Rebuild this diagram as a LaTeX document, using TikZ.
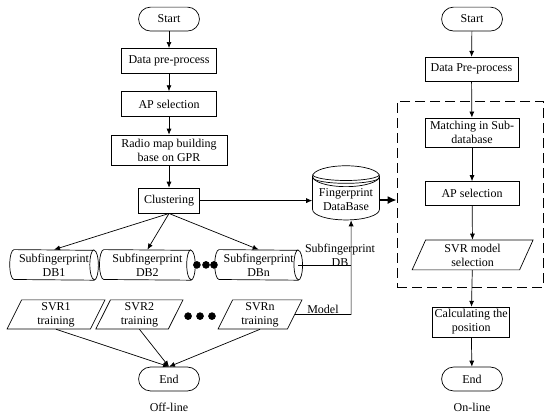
\documentclass[tikz,border=0pt]{standalone}
\usepackage{fontspec}
\setmainfont{Liberation Serif}
\usepackage{tikz}
\usetikzlibrary{shapes.geometric}
\usetikzlibrary{arrows,arrows.meta,shapes}

\begin{document}
\begin{tikzpicture}[>={Latex[length=6pt,width=5pt]}, line width=0.7pt]
    \tikzstyle{every node}=[font=\fontsize{12}{14}\selectfont, inner sep=2pt, align=center]
    \tikzstyle{term}=[rectangle, rounded corners=0.42cm, draw, minimum width=2.14cm, minimum height=0.84cm]
    \tikzstyle{proc}=[rectangle, draw, minimum width=3.34cm, minimum height=0.88cm]
    \tikzstyle{subdb}=[rectangle, minimum width=3.09cm, minimum height=1.05cm]
    \tikzstyle{svr}=[trapezium, trapezium left angle=63, trapezium right angle=117,
    trapezium stretches body, draw, minimum height=1.02cm]
    \useasboundingbox (0,0) rectangle (19.33,-14.66);

    % off-line
    \node[term](st1) at (5.94,-0.67){Start};
    \node[proc](pp1) at (5.94,-2.14){Data pre-process};
    \node[proc](ap1) at (5.94,-3.66){AP selection};
    \node[proc, minimum width=4.08cm, minimum height=1.05cm](rm) at (5.94,-5.27){Radio map building\\base on GPR};
    \node[proc, minimum width=2.14cm](cl) at (5.94,-7.05){Clustering};

    \node[subdb](db1) at (1.90,-9.31){Subfingerprint\\DB1};
    \node[subdb, minimum width=3.34cm](db2) at (5.18,-9.31){Subfingerprint\\DB2};
    \node[subdb, minimum width=3.06cm](dbn) at (9.09,-9.31){Subfingerprint\\DBn};
    \foreach \n in {db1,db2,dbn}
        \draw ([xshift=0.15cm]\n.north west) arc (90:270:0.15cm and 0.525cm)
        -- ([xshift=-0.15cm]\n.south east) arc (-90:90:0.15cm and 0.525cm) -- cycle
        ([xshift=-0.15cm]\n.north east) arc (90:270:0.15cm and 0.525cm);
    \filldraw[black] (6.92,-9.31) circle (0.12);
    \filldraw[black] (7.24,-9.31) circle (0.12);
    \filldraw[black] (7.52,-9.31) circle (0.12);

    \node[svr, minimum width=3.44cm](sv1) at (1.97,-11.05){SVR1\\training};
    \node[svr, minimum width=3.06cm](sv2) at (4.90,-11.05){SVR2\\training};
    \node[svr, minimum width=2.95cm](svn) at (9.14,-11.05){SVRn\\training};
    \filldraw[black] (6.61,-11.11) circle (0.12);
    \filldraw[black] (7.03,-11.11) circle (0.12);
    \filldraw[black] (7.45,-11.11) circle (0.12);

    \node[term](en1) at (5.94,-13.32){End};
    \node[](off) at (5.94,-14.31){Off-line};

    % database
    \node[cylinder, shape border rotate=90, draw, aspect=0.36, minimum width=2.35cm,
    minimum height=1.62cm](fdb) at (12.16,-7.03){Fingerprint\\DataBase};
    \draw ([xshift=1.175cm, yshift=-0.32cm]fdb.north) arc (0:-180:1.175cm and 0.21cm);
    \draw ([xshift=1.175cm, yshift=-0.42cm]fdb.north) arc (0:-180:1.175cm and 0.21cm);
    \node[](lsub) at (11.95,-8.96){Subfingerprint\\DB};
    \node[](lmod) at (11.35,-10.86){Model};
    \coordinate (jd) at (12.34,-9.31);
    \coordinate (jm) at (12.34,-11.05);

    % on-line
    \node[draw, dash pattern=on 10pt off 5pt, minimum width=5.13cm,
    minimum height=6.54cm](dbox) at (16.52,-6.82){};
    \node[term](st2) at (16.59,-0.67){Start};
    \node[proc, minimum width=3.27cm, minimum height=0.84cm](pp2) at (16.57,-2.43){Data Pre-process};
    \node[proc, minimum width=3.30cm, minimum height=1.05cm](mt) at (16.59,-4.67){Matching in Sub-\\database};
    \node[proc, minimum width=3.30cm, minimum height=0.84cm](ap2) at (16.59,-6.80){AP selection};
    \node[svr, minimum width=4.25cm, minimum height=1.05cm](svm) at (16.61,-8.96){SVR model\\selection};
    \node[proc, minimum width=2.67cm, minimum height=1.05cm](cp) at (16.56,-11.32){Calculating the\\position};
    \node[term](en2) at (16.59,-13.32){End};
    \node[](onl) at (16.59,-14.31){On-line};

    \draw[->] (st1) -- (pp1);
    \draw[->] (pp1) -- (ap1);
    \draw[->] (ap1) -- (rm);
    \draw[->] (rm) -- (cl);
    \draw[->] (cl.south) -- (db1.north);
    \draw[->] (cl.south) -- (db2.north);
    \draw[->] (cl.south) -- (dbn.north);
    \draw[->] (sv1.south) -- (en1.north);
    \draw[->] (sv2.south) -- (en1.north);
    \draw[->] (svn.south) -- (en1.north);
    \draw[->] (cl.east) -- (cl.east -| fdb.west);
    \draw ([xshift=-0.15cm]dbn.east) -- (jd);
    \draw[->] (svn.east) -- (jm) -- (jm |- fdb.south);
    \draw[-{Latex[length=9pt,width=8pt]}, line width=1.8pt] (fdb.east) -- (fdb.east -| dbox.west);

    \draw[->] (st2) -- (pp2);
    \draw[->] (pp2) -- (mt);
    \draw[->] (mt) -- (ap2);
    \draw[->] (ap2) -- (svm);
    \draw[->] (svm) -- (cp);
    \draw[->] (cp) -- (en2);
\end{tikzpicture}
\end{document}
